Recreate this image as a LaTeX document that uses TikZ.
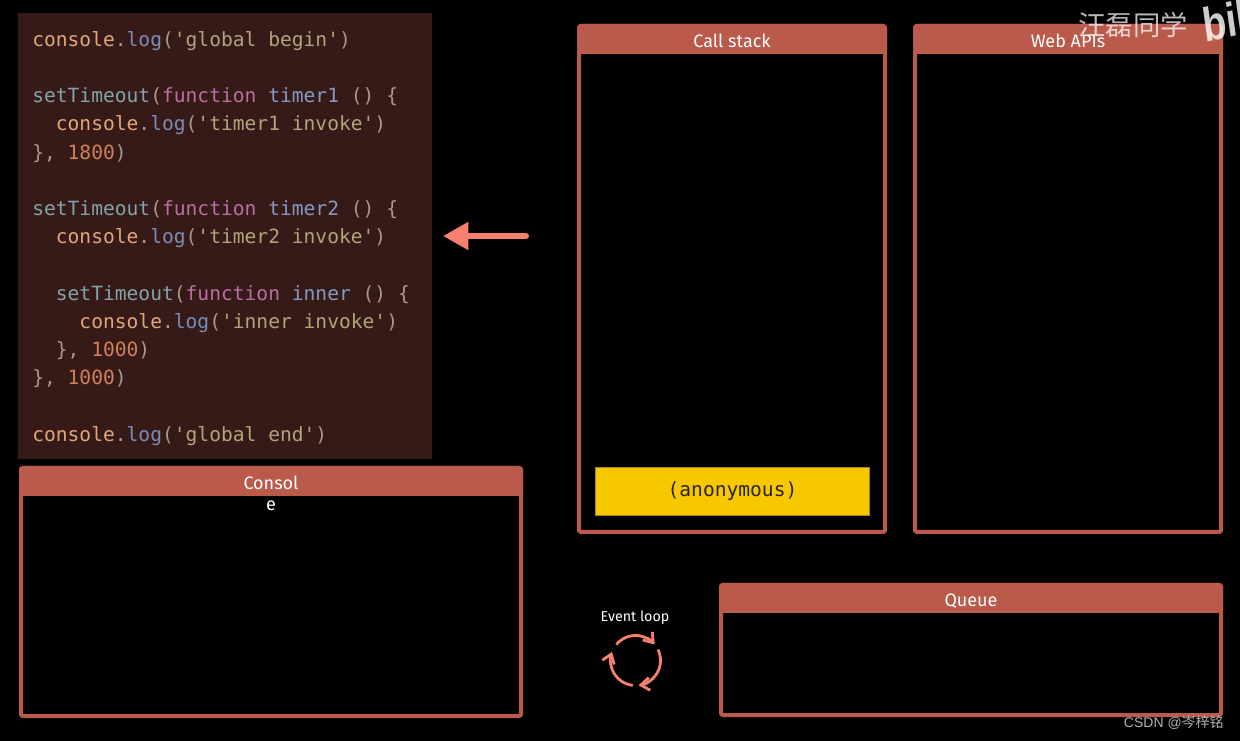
\documentclass[tikz,border=0pt]{standalone}
\usepackage{fontspec}
\setmainfont{Fira Sans}
\setmonofont{DejaVu Sans Mono}
\newfontfamily\cjkfont{Noto Sans CJK SC}
\newfontfamily\marksfont{Liberation Sans}
\usetikzlibrary{positioning,arrows.meta}
\definecolor{Brick}{RGB}{185,90,75}
\definecolor{Coral}{RGB}{245,128,108}
\definecolor{CodeBg}{RGB}{53,26,24}
\definecolor{Amber}{RGB}{247,200,0}
\definecolor{AmberEdge}{RGB}{165,135,20}
\definecolor{ObjC}{RGB}{222,168,120}
\definecolor{LogC}{RGB}{122,140,182}
\definecolor{StrC}{RGB}{176,165,120}
\definecolor{SetC}{RGB}{132,162,168}
\definecolor{FunC}{RGB}{184,112,160}
\definecolor{NameC}{RGB}{136,152,192}
\definecolor{PunC}{RGB}{168,154,138}
\definecolor{NumC}{RGB}{208,128,90}
\newcommand{\cobj}{\textcolor{ObjC}{console}\textcolor{PunC}{.}\textcolor{LogC}{log}\textcolor{PunC}{(}}
\newcommand{\cset}[1]{\textcolor{SetC}{setTimeout}\textcolor{PunC}{(}\textcolor{FunC}{function} \textcolor{NameC}{#1} \textcolor{PunC}{() \{}}
\newcommand{\cstr}[1]{\textcolor{StrC}{'#1'}\textcolor{PunC}{)}}
\newcommand{\cend}[1]{\textcolor{PunC}{\},} \textcolor{NumC}{#1}\textcolor{PunC}{)}}
\begin{document}
\begin{tikzpicture}[x=.75pt,y=-.75pt,
 panel/.style={draw=Brick,line width=3pt,rounded corners=1.5pt,outer sep=0pt,inner sep=0pt,anchor=north west},
 hd/.style={draw=Brick,fill=Brick,line width=3pt,rounded corners=1.5pt,outer sep=0pt,inner sep=0pt,anchor=north,text height=13pt,text depth=0pt,minimum height=19.5pt,text=white,font=\fontsize{13.5}{15}\selectfont},
 code/.style={fill=CodeBg,anchor=north west,inner xsep=10.5pt,inner ysep=0pt,text width=289.5pt,minimum height=334.5pt,align=flush left,font=\ttfamily\fontsize{14.7}{21.15}\selectfont},
 a/.style={-{Triangle[length=19pt,width=20pt]},line width=4.5pt,line cap=round,Coral},
 l/.style={-{Straight Barb[length=6.5pt,width=9.5pt]},line width=2.1pt,Coral}]
\fill[black] (0,0) rectangle (1240,741);
\useasboundingbox (0,0) rectangle (1240,741);
\node[code] (source) at (18,13) {\rule{0pt}{14.2pt}\cobj\cstr{global begin}\\
~\\
\cset{timer1}\\
~~\cobj\cstr{timer1 invoke}\\
\cend{1800}\\
~\\
\cset{timer2}\\
~~\cobj\cstr{timer2 invoke}\\
~\\
~~\cset{inner}\\
~~~~\cobj\cstr{inner invoke}\\
~~\cend{1000}\\
\cend{1000}\\
~\\
\cobj\cstr{global end}};
\node[panel,minimum width=229.5pt,minimum height=379.5pt] (stack) at (579,26) {};
\node[hd,minimum width=229.5pt] (stackhd) at (stack.north) {Call stack};
\node[panel,minimum width=229.5pt,minimum height=379.5pt] (apis) at (915,26) {};
\node[hd,minimum width=229.5pt] (apishd) at (apis.north) {Web APIs};
\node[panel,minimum width=375pt,minimum height=186pt] (consol) at (21,468) {};
\node[hd,minimum width=375pt] (consolhd) at (consol.north) {Consol};
\node[text=white,font=\fontsize{13.5}{15}\selectfont,inner sep=0pt,below=5pt of consolhd] (consolrest) {e};
\node[panel,minimum width=375pt,minimum height=97.5pt] (queue) at (721,585) {};
\node[hd,minimum width=375pt] (queuehd) at (queue.north) {Queue};
\node[draw=AmberEdge,fill=Amber,line width=.8pt,minimum width=206pt,minimum height=36pt,inner sep=0pt,font=\ttfamily\fontsize{14.7}{16}\selectfont,text=black!85] (anon) at (732.5,491.5) {(anonymous)};
\coordinate (ptrtail) at (526,236);
\coordinate (ptrhead) at (443,236);
\draw[a] (ptrtail)--(ptrhead);
\node[text=white,font=\fontsize{10.7}{12}\selectfont] (looplabel) at (635,618) {Event loop};
\node[circle,minimum size=37.5pt,inner sep=0pt,outer sep=0pt] (loop) at (635.5,660.5) {};
\draw[l] (loop.140) arc[start angle=140,end angle=40,radius=18.75pt];
\draw[l] (loop.26) arc[start angle=26,end angle=-83,radius=18.75pt];
\draw[l] (loop.-96) arc[start angle=-96,end angle=-200,radius=18.75pt];
\node[text=white,opacity=.72,font=\cjkfont\fontsize{20.5}{22}\selectfont] (mark) at (1133,25) {汪磊同学};
\node[text=white,opacity=.8,font=\marksfont\bfseries\fontsize{36}{38}\selectfont,xscale=.8,rotate=10,anchor=base west,inner sep=0pt] (logo) at (1205,43) {bil};
\node[text=white!70!black,font=\marksfont\fontsize{10.5}{12}\selectfont,anchor=east,inner sep=0pt] (csdn) at (1224,723) {CSDN @{\cjkfont 岑梓铭}};
\end{tikzpicture}
\end{document}
